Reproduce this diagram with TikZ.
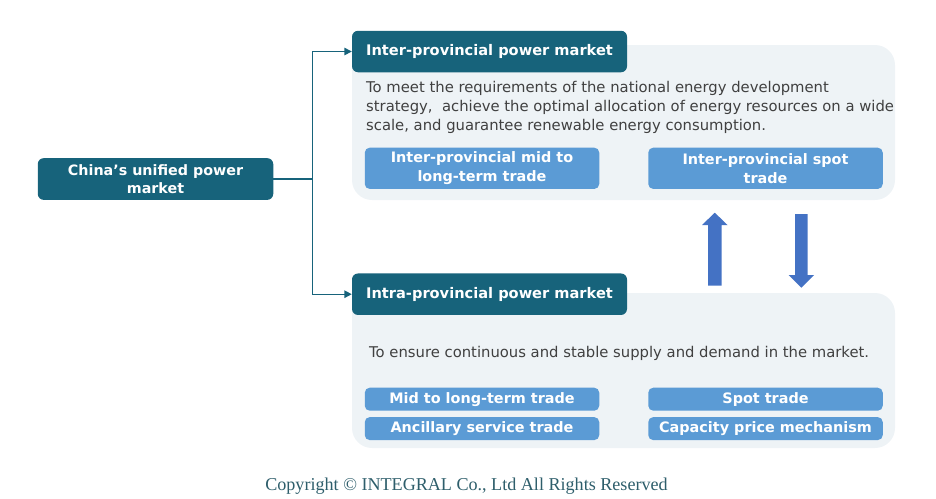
\documentclass[tikz,border=0pt]{standalone}
\usepackage{fontspec}
\setmainfont{DejaVu Sans}
\newfontfamily\crfont{Liberation Serif}
\usetikzlibrary{arrows.meta}
\definecolor{teal}{HTML}{17637B}
\definecolor{subblue}{HTML}{5B9BD5}
\definecolor{panel}{HTML}{EEF3F6}
\definecolor{bodytxt}{HTML}{404040}
\definecolor{bigarrow}{HTML}{4472C4}
\definecolor{crtxt}{HTML}{2E5E6B}
\tikzset{
  hdr/.style={rectangle, rounded corners=6pt, fill=teal, text=white, inner sep=0pt,
    minimum width=275pt, minimum height=41.5pt, font=\bfseries\fontsize{14.6}{18.5}\selectfont},
  mainbox/.style={hdr, minimum width=235.5pt, minimum height=41.7pt, align=center,
    font=\bfseries\fontsize{14.3}{18.5}\selectfont},
  subbox/.style={rectangle, rounded corners=5pt, fill=subblue, text=white, inner sep=0pt,
    minimum width=234.5pt, font=\bfseries\fontsize{14.4}{19}\selectfont, align=center},
  panelbox/.style={fill=panel, rounded corners=20pt},
  bodytext/.style={inner sep=0pt, text=bodytxt, align=left, font=\fontsize{14.8}{19}\selectfont},
  conn/.style={draw=teal, line width=1.4pt, -{Triangle[length=7.5pt,width=7.5pt]}},
  blockarrow/.style={fill=bigarrow}
}
\begin{document}
\begin{tikzpicture}[x=1pt,y=-1pt]
\useasboundingbox (0,0) rectangle (936,498);
% panels
\fill[panelbox] (352,45) rectangle (895,200);
\fill[panelbox] (352,293) rectangle (895,448);
% headers
\node[mainbox] (main) at (155.5,179) {China’s unified power\\market};
\node[hdr] (inter) at (489.5,51.5) {Inter-provincial power market};
\node[hdr] (intra) at (489.5,294.2) {Intra-provincial power market};
% connectors
\coordinate (split) at (312.5,179);
\draw[draw=teal, line width=1.4pt] (main.east) -- (split);
\draw[conn] (split) |- (inter.west);
\draw[conn] (split) |- (intra.west);
% body texts
\node[bodytext, anchor=base west] (intertxt) at (366,130.5) {To meet the requirements of the national energy development\\strategy,\ \ achieve the optimal allocation of energy resources on a wide\\scale, and guarantee renewable energy consumption.};
\node[bodytext, anchor=base west] (intratxt) at (369,357) {To ensure continuous and stable supply and demand in the market.};
% sub boxes
\node[subbox, minimum height=41.3pt] (imid) at (482,168.3) {Inter-provincial mid to\\long-term trade};
\node[subbox, minimum height=41.3pt] (ispot) at (765.5,168.3) {Inter-provincial spot\\trade};
\node[subbox, minimum height=23pt] (mid) at (482,399.2) {Mid to long-term trade};
\node[subbox, minimum height=23pt] (anc) at (482,428.6) {Ancillary service trade};
\node[subbox, minimum height=23pt] (spot) at (765.5,399.2) {Spot trade};
\node[subbox, minimum height=23pt] (cap) at (765.5,428.6) {Capacity price mechanism};
% block arrows
\fill[blockarrow] (708,285.7) -- (708,225) -- (702,225) -- (714.8,212.7) -- (727.5,225) -- (721.7,225) -- (721.7,285.7) -- cycle;
\fill[blockarrow] (795,214) -- (807.7,214) -- (807.7,275) -- (814,275) -- (801.3,287.7) -- (788.5,275) -- (795,275) -- cycle;
% copyright
\node[font=\crfont\fontsize{18.1}{20}\selectfont, text=crtxt, anchor=base] (copy) at (466.5,490) {Copyright © INTEGRAL Co., Ltd All Rights Reserved};
\end{tikzpicture}
\end{document}
